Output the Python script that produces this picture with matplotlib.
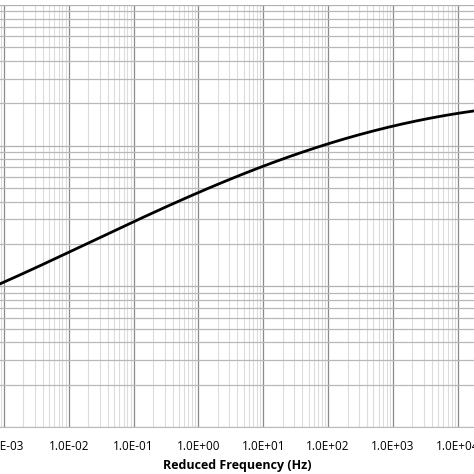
import numpy as np
import matplotlib.pyplot as plt
from matplotlib.ticker import LogLocator, FixedLocator

plt.rcParams['font.family'] = ['Open Sans', 'DejaVu Sans']

freq = [10**-3.06, 1e-2, 10**-1.01, 1.0, 10.0, 100.0, 1000.0, 10**3.99, 10**4.25]
modulus = [10**2.017, 10**2.244, 10**2.457, 10**2.663, 10**2.855, 10**3.019,
           10**3.133, 10**3.232, 10**3.246]
xticks = [1e-3, 1e-2, 1e-1, 1e0, 1e1, 1e2, 1e3, 1e4]
xlabels = ['1.0E-03', '1.0E-02', '1.0E-01', '1.0E+00', '1.0E+01', '1.0E+02',
           '1.0E+03', '1.0E+04']

fig = plt.figure(figsize=(4.74, 4.74), dpi=100)
ax = fig.add_axes([0, 47 / 474, 1, 422 / 474])

# smooth curve through read points in log space
lx = np.log10(freq)
ly = np.log10(modulus)
xs = np.linspace(lx[0], lx[-1], 200)
coef = np.polyfit(lx, ly, 4)
ax.plot(10**xs, 10**np.polyval(coef, xs), color='black', lw=2)

ax.set_xscale('log')
ax.set_yscale('log')
ax.set_xlim(10**-3.06, 10**4.25)
ax.set_ylim(10, 10000)
ax.xaxis.set_major_locator(FixedLocator(xticks))
ax.set_xticklabels(xlabels)
ax.xaxis.set_minor_locator(LogLocator(base=10, subs=np.arange(2, 10)))
ax.yaxis.set_minor_locator(LogLocator(base=10, subs=np.arange(2, 10)))
ax.set_yticklabels([])
ax.tick_params(which='both', length=0, labelsize=8.5, pad=9)
ax.grid(which='major', axis='x', color='#8a8a8a', lw=0.9)
ax.grid(which='major', axis='y', color='#b0b0b0', lw=0.9)
ax.grid(which='minor', axis='y', color='#b8b8b8', lw=0.9)
ax.grid(which='minor', axis='x', color='#dcdcdc', lw=0.8)
for s in ['top', 'right', 'left']:
    ax.spines[s].set_visible(False)
ax.spines['bottom'].set_color('#bbbbbb')
ax.set_xlabel('Reduced Frequency (Hz)', fontsize=9, fontweight='bold', labelpad=5)

fig.savefig('out.png', dpi=100)
